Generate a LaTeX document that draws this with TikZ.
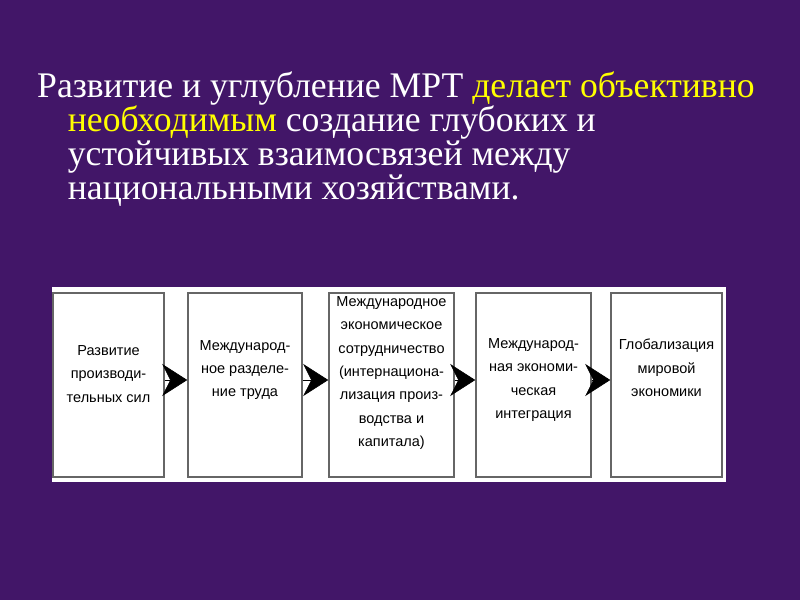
\documentclass[tikz,border=0pt]{standalone}
\usepackage{fontspec}
\setmainfont{Liberation Serif}
\newfontfamily\boxfont{Liberation Sans}
\usetikzlibrary{arrows.meta,positioning}
\definecolor{fon}{RGB}{66,22,104}
\definecolor{zheltyj}{RGB}{255,255,0}

\begin{document}
\begin{tikzpicture}[x=1pt,y=-1pt,
    % рамка этапа
    stage/.style={draw=black!60, line width=1.5pt, fill=white, minimum height=184pt, inner sep=0pt},
    % текст внутри рамки
    stagetext/.style={font=\boxfont\fontsize{14.5}{23.3}\selectfont, align=center, inner sep=0pt},
    % стрелка между этапами
    perehod/.style={-{Stealth[length=25pt,width=32pt,inset=8pt]}, line width=0.6pt}
]

    % Фон слайда
    \fill[fon] (0,0) rectangle (800,600);
    \useasboundingbox (0,0) rectangle (800,600);

    % Заголовок (первая строка выступает влево), привязка по последней строке
    \node[anchor=base west, align=left, text=white, xscale=0.99, transform shape,
          font=\fontsize{36}{34}\selectfont, inner sep=0pt] (zagolovok) at (37,199)
        {Развитие и углубление МРТ \textcolor{zheltyj}{делает объективно}\\
         \hspace*{31pt}\textcolor{zheltyj}{необходимым} создание глубоких и\\
         \hspace*{31pt}устойчивых взаимосвязей между\\
         \hspace*{31pt}национальными хозяйствами.};

    % Белая подложка схемы
    \fill[white] (52,287) rectangle (726,482);

    % Этапы
    \node[stage, minimum width=111pt] (box1) at (108.5,385) {};
    \node[stage, minimum width=114pt] (box2) at (245,385) {};
    \node[stage, minimum width=125pt] (box3) at (391.5,385) {};
    \node[stage, minimum width=115pt] (box4) at (533.5,385) {};
    \node[stage, minimum width=111pt] (box5) at (666.5,385) {};

    \node[stagetext] (t1) at ([yshift=11pt]box1.center) {Развитие\\производи-\\тельных сил};
    \node[stagetext] (t2) at ([yshift=15pt]box2.center) {Международ-\\ное разделе-\\ние труда};
    \node[stagetext] (t3) at ([yshift=12pt]box3.center) {Международное\\экономическое\\сотрудничество\\(интернациона-\\лизация произ-\\водства и\\капитала)};
    \node[stagetext] (t4) at ([yshift=5pt]box4.center) {Международ-\\ная экономи-\\ческая\\интеграция};
    \node[stagetext] (t5) at ([yshift=17pt]box5.center) {Глобализация\\мировой\\экономики};

    % Стрелки
    \foreach \a/\b in {box1/box2, box2/box3, box3/box4, box4/box5}
        \draw[perehod] ([yshift=5pt]\a.east) -- ([yshift=5pt]\b.west);
\end{tikzpicture}
\end{document}
